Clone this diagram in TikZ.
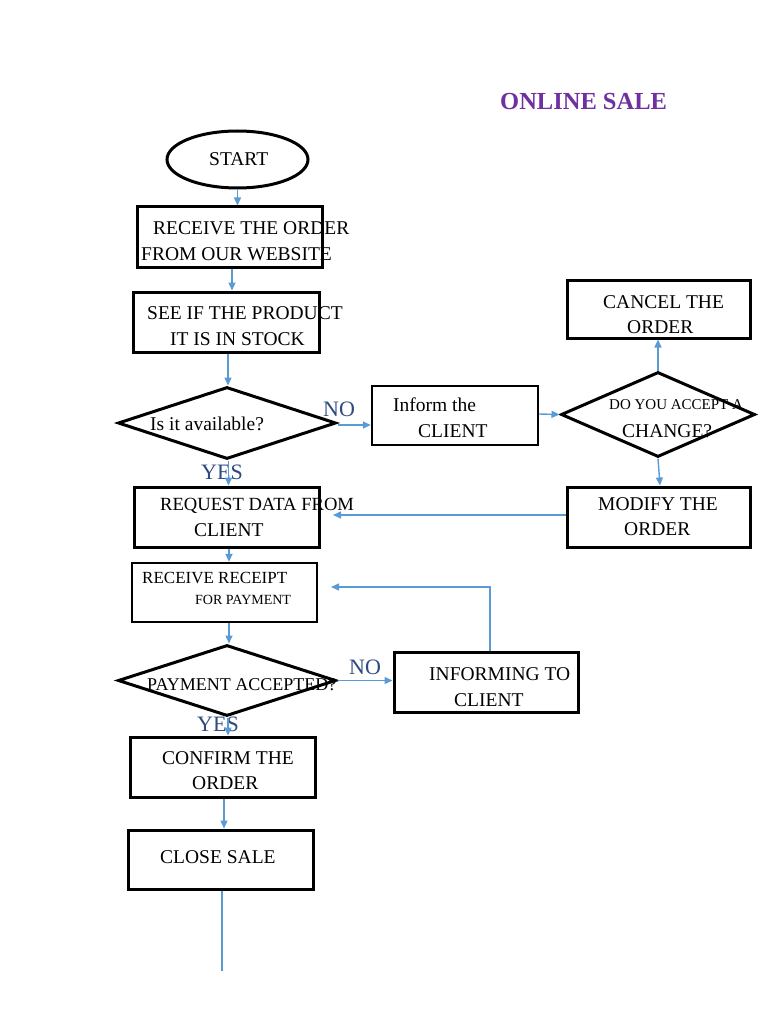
\documentclass[tikz,border=0pt]{standalone}
\usepackage{fontspec}
\setmainfont{Liberation Serif}
\usetikzlibrary{shapes.geometric,arrows.meta}
\definecolor{arrowblue}{HTML}{5B9BD5}
\definecolor{labelblue}{HTML}{2F4A80}
\definecolor{titlepurple}{HTML}{7030A0}
\begin{document}
\begin{tikzpicture}[x=1pt,y=-1pt,
  shp/.style={draw=black,line width=3pt,inner sep=0pt,fill=none},
  boxshape/.style={shp,rectangle},
  dia/.style={shp,diamond},
  txt/.style={anchor=base west,inner sep=0pt,font=\fontsize{19.5}{23}\selectfont},
  smalltxt/.style={txt,font=\fontsize{17}{20}\selectfont},
  tinytxt/.style={txt,font=\fontsize{14}{17}\selectfont},
  yn/.style={txt,font=\fontsize{22}{26}\selectfont,text=labelblue},
  arr/.style={draw=arrowblue,line width=1.4pt,-{Triangle[length=8pt,width=7pt]}},
  plain/.style={draw=arrowblue,line width=1.4pt}]
\useasboundingbox (0,0) rectangle (768,1024);
\fill[white] (0,0) rectangle (768,1024);
% title
\node[txt,font=\bfseries\fontsize{24.5}{28}\selectfont,text=titlepurple] (title) at (500,110) {ONLINE SALE};
% shapes
\node[shp,ellipse,minimum width=141pt,minimum height=57pt] (start) at (237.5,159.5) {};
\node[boxshape,minimum width=185pt,minimum height=60pt] (recv) at (229.5,237) {};
\node[boxshape,minimum width=186pt,minimum height=60pt] (see) at (226,322) {};
\node[dia,minimum width=218pt,minimum height=72pt] (avail) at (227,423) {};
\node[boxshape,line width=2.4pt,minimum width=166pt,minimum height=59pt] (inform) at (455,415.5) {};
\node[dia,minimum width=194pt,minimum height=85pt] (accept) at (658,414.5) {};
\node[boxshape,minimum width=183pt,minimum height=58pt] (cancel) at (658.5,309) {};
\node[boxshape,minimum width=183pt,minimum height=60pt] (modify) at (658.5,517) {};
\node[boxshape,minimum width=185pt,minimum height=60pt] (request) at (226.5,517) {};
\node[boxshape,line width=2.4pt,minimum width=185pt,minimum height=59pt] (receipt) at (224.5,592.5) {};
\node[dia,minimum width=218pt,minimum height=71pt] (payment) at (227,680.5) {};
\node[boxshape,minimum width=184pt,minimum height=60pt] (informing) at (486,682) {};
\node[boxshape,minimum width=185pt,minimum height=60pt] (confirm) at (222.5,767) {};
\node[boxshape,minimum width=185pt,minimum height=59pt] (close) at (220.5,859.5) {};
\coordinate (reqin) at (333,515);
\coordinate (rcptin) at (331,587);
\coordinate (endpt) at (222,971);
% texts
\node[txt] (tstart) at (209,165.5) {START};
\node[txt] (trecv1) at (153,234.5) {RECEIVE THE ORDER};
\node[txt] (trecv2) at (141,260.5) {FROM OUR WEBSITE};
\node[txt] (tsee1) at (147,319.5) {SEE IF THE PRODUCT};
\node[txt] (tsee2) at (170,345.5) {IT IS IN STOCK};
\node[txt] (tavail) at (150,430) {Is it available?};
\node[txt] (tinf1) at (393,411) {Inform the};
\node[txt] (tinf2) at (418,437) {CLIENT};
\node[yn] (no1) at (323,416) {NO};
\node[yn] (yes1) at (201,479) {YES};
\node[txt,font=\fontsize{15}{18}\selectfont] (tacc1) at (609,409) {DO YOU ACCEPT A};
\node[txt] (tacc2) at (622,437) {CHANGE?};
\node[txt] (tcan1) at (603,308) {CANCEL THE};
\node[txt] (tcan2) at (627,333.5) {ORDER};
\node[txt] (tmod1) at (598,510) {MODIFY THE};
\node[txt] (tmod2) at (624,535) {ORDER};
\node[txt,font=\fontsize{18.6}{22}\selectfont] (treq1) at (160,510) {REQUEST DATA FROM};
\node[txt] (treq2) at (194,536) {CLIENT};
\node[smalltxt] (trc1) at (142,583) {RECEIVE RECEIPT};
\node[tinytxt] (trc2) at (195,604) {FOR PAYMENT};
\node[txt,font=\fontsize{18}{21}\selectfont] (tpay) at (147,690) {PAYMENT ACCEPTED?};
\node[yn] (no2) at (349,674) {NO};
\node[txt] (tinfg1) at (429,680) {INFORMING TO};
\node[txt] (tinfg2) at (454,706.5) {CLIENT};
\node[yn] (yes2) at (197,731.5) {YES};
\node[txt] (tconf1) at (162,764) {CONFIRM THE};
\node[txt] (tconf2) at (192,789) {ORDER};
\node[txt] (tclose) at (160,863) {CLOSE SALE};
% connectors
\draw[arr] (start.south) -- (start.south |- recv.north);
\draw[arr] ([xshift=2.5pt]recv.south) -- ([xshift=2.5pt]recv.south |- see.north);
\draw[arr] ([xshift=2pt]see.south) -- ([xshift=2pt]see.south |- avail.north);
\draw[arr] ([yshift=-2pt]avail.east) -- ([yshift=-2pt]avail.east -| inform.west);
\draw[arr] ([yshift=1.5pt]inform.east) -- (accept.west);
\draw[arr] (accept.north) -- (accept.north |- cancel.south);
\draw[arr] (accept.south) -- ([xshift=2pt]accept.south |- modify.north);
\draw[arr] ([yshift=2pt]modify.west) -- (reqin);
\draw[arr] ([xshift=1.5pt]avail.south) -- ([xshift=1.5pt]avail.south |- request.north);
\draw[arr] ([xshift=2.5pt]request.south) -- ([xshift=2.5pt]request.south |- receipt.north);
\draw[arr] ([xshift=4.5pt]receipt.south) -- ([xshift=4.5pt]receipt.south |- payment.north);
\draw[arr] (payment.east) -- (payment.east -| informing.west);
\draw[arr] ([xshift=4pt]informing.north) |- (rcptin);
\draw[arr] ([xshift=1pt]payment.south) -- ([xshift=1pt]payment.south |- confirm.north);
\draw[arr] ([xshift=1.5pt]confirm.south) -- ([xshift=1.5pt]confirm.south |- close.north);
\draw[plain] ([xshift=1.5pt]close.south) -- (endpt);
\end{tikzpicture}
\end{document}
